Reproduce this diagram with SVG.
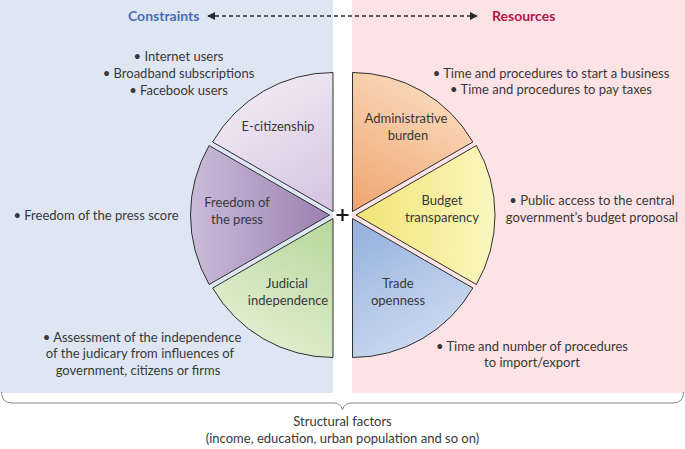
<svg xmlns="http://www.w3.org/2000/svg" width="685" height="449" viewBox="0 0 685 449">
<style>
  .t { font-family: Lato, "Open Sans", "Liberation Sans", sans-serif; font-size: 13px; fill: #383838; text-anchor: middle; }
  .h { font-family: Lato, "Open Sans", "Liberation Sans", sans-serif; font-size: 14px; font-weight: bold; text-anchor: start; }
  .w { stroke: #2f2f2f; stroke-width: 1; stroke-linejoin: round; }
  .conn { stroke: #2a2a2a; stroke-width: 1.4; fill: none; stroke-dasharray: 4 3; }
  .brace { stroke: #8a8a8a; stroke-width: 1; fill: none; }
</style>
<defs>
  <marker id="ah" viewBox="0 0 10 10" refX="9" refY="5" markerWidth="8" markerHeight="8" markerUnits="userSpaceOnUse" orient="auto-start-reverse">
    <path d="M0,0 L10,5 L0,10 Z" fill="#2a2a2a"/>
  </marker>
  <linearGradient id="gE" gradientUnits="userSpaceOnUse" x1="263" y1="90" x2="333" y2="211">
    <stop offset="0" stop-color="#eee7f3"/><stop offset="1" stop-color="#d3c3df"/>
  </linearGradient>
  <linearGradient id="gF" gradientUnits="userSpaceOnUse" x1="191" y1="215" x2="329" y2="215">
    <stop offset="0" stop-color="#cbbbd9"/><stop offset="1" stop-color="#9a80b1"/>
  </linearGradient>
  <linearGradient id="gJ" gradientUnits="userSpaceOnUse" x1="333" y1="219" x2="263" y2="340">
    <stop offset="0" stop-color="#b5d79b"/><stop offset="1" stop-color="#dfedcd"/>
  </linearGradient>
  <linearGradient id="gA" gradientUnits="userSpaceOnUse" x1="352" y1="211" x2="422" y2="90">
    <stop offset="0" stop-color="#efa46f"/><stop offset="1" stop-color="#f9d6b6"/>
  </linearGradient>
  <linearGradient id="gB" gradientUnits="userSpaceOnUse" x1="356" y1="215" x2="495" y2="215">
    <stop offset="0" stop-color="#f2e474"/><stop offset="1" stop-color="#faf6bf"/>
  </linearGradient>
  <linearGradient id="gT" gradientUnits="userSpaceOnUse" x1="352" y1="219" x2="422" y2="340">
    <stop offset="0" stop-color="#93afdc"/><stop offset="1" stop-color="#c9d7ef"/>
  </linearGradient>
</defs>

<g id="panels">
  <rect x="0" y="0" width="333" height="393" fill="#dfe6f3"/>
  <rect x="352" y="0" width="333" height="393" fill="#fde3e6"/>
</g>

<g id="header-constraints">
  <text class="h" x="128" y="21" fill="#4a6db4">Constraints</text>
</g>
<g id="header-resources">
  <text class="h" x="492" y="21" fill="#b3174a">Resources</text>
</g>

<g id="connectors">
  <line class="conn" x1="208" y1="16" x2="477" y2="16" marker-start="url(#ah)" marker-end="url(#ah)"/>
</g>

<g id="e-citizenship">
  <path class="w" fill="url(#gE)" d="M333,211.5 L333,72.5 A139,139 0 0 0 212.62,142 Z"/>
  <text class="t" x="278" y="131">E-citizenship</text>
  <text class="t" x="178.5" y="61">• Internet users</text>
  <text class="t" x="178.5" y="78">• Broadband subscriptions</text>
  <text class="t" x="178.5" y="94.5">• Facebook users</text>
</g>

<g id="freedom-of-the-press">
  <path class="w" fill="url(#gF)" d="M329.5,215 L209.12,145.5 A139,139 0 0 0 209.12,284.5 Z"/>
  <text class="t" x="237" y="207">Freedom of</text>
  <text class="t" x="237" y="224">the press</text>
  <text class="t" x="96" y="220">• Freedom of the press score</text>
</g>

<g id="judicial-independence">
  <path class="w" fill="url(#gJ)" d="M333,218.5 L212.62,288 A139,139 0 0 0 333,357.5 Z"/>
  <text class="t" x="287" y="288">Judicial</text>
  <text class="t" x="288" y="305">independence</text>
  <text class="t" x="142" y="341.5">• Assessment of the independence</text>
  <text class="t" x="140" y="358">of the judicary from influences of</text>
  <text class="t" x="138" y="375">government, citizens or firms</text>
</g>

<g id="administrative-burden">
  <path class="w" fill="url(#gA)" d="M352.5,211.5 L352.5,72.5 A139,139 0 0 1 472.88,142 Z"/>
  <text class="t" x="406" y="123">Administrative</text>
  <text class="t" x="408" y="140">burden</text>
  <text class="t" x="551" y="77.5">• Time and procedures to start a business</text>
  <text class="t" x="551" y="94">• Time and procedures to pay taxes</text>
</g>

<g id="budget-transparency">
  <path class="w" fill="url(#gB)" d="M356,215 L476.38,145.5 A139,139 0 0 1 476.38,284.5 Z"/>
  <text class="t" x="442" y="205">Budget</text>
  <text class="t" x="442" y="221.5">transparency</text>
  <text class="t" x="592" y="205">• Public access to the central</text>
  <text class="t" x="592" y="221.5">government’s budget proposal</text>
</g>

<g id="trade-openness">
  <path class="w" fill="url(#gT)" d="M352.5,218.5 L472.88,288 A139,139 0 0 1 352.5,357.5 Z"/>
  <text class="t" x="398" y="288">Trade</text>
  <text class="t" x="398" y="305">openness</text>
  <text class="t" x="532" y="350.5">• Time and number of procedures</text>
  <text class="t" x="532" y="367">to import/export</text>
</g>

<g id="plus">
  <path d="M342.5,209 V221 M336.5,215 H348.5" stroke="#1a1a1a" stroke-width="2.2" fill="none"/>
</g>

<g id="structural-factors">
  <path class="brace" d="M1.5,392 Q1.5,403 12,403 L334,403 Q340,403 342.5,409.5 Q345,403 351,403 L673,403 Q683.5,403 683.5,392"/>
  <text class="t" x="342.5" y="426">Structural factors</text>
  <text class="t" x="342.5" y="443">(income, education, urban population and so on)</text>
</g>
</svg>
